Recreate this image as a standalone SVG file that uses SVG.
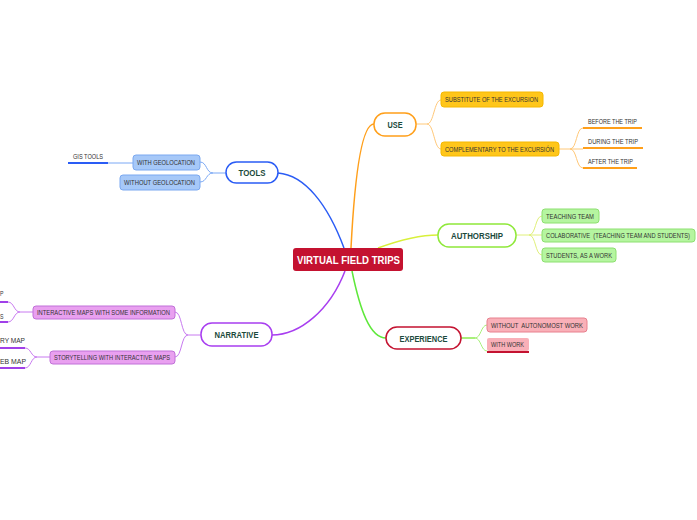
<svg xmlns="http://www.w3.org/2000/svg" width="697" height="520" viewBox="0 0 697 520">
<style>
text{font-family:"Liberation Sans",Arial,sans-serif}
.sm{font-size:7px;fill:#333}
.mt{font-size:9.5px;font-weight:bold;fill:#1b4a3c;text-anchor:middle}
.topic{fill:#fff;stroke-width:1.5}
.fk{fill:none;stroke-width:1}
.ul{fill:none;stroke-width:2}
</style>
<rect width="697" height="520" fill="#fff"/>
<g id="connectors" fill="none">
<path d="M278,173 C305,175 328,205 344,248" stroke="#2a5cf5" stroke-width="1.5"/>
<path d="M351,248 C354,190 360,124 374,124" stroke="#ff9f1a" stroke-width="1.5"/>
<path d="M378,248 C400,240 418,235 438,235" stroke="#d8f03a" stroke-width="1.5"/>
<path d="M352,271 C360,310 370,338 386,338" stroke="#5ee83a" stroke-width="1.5"/>
<path d="M345,271 C330,310 300,335 272,335" stroke="#a83ef0" stroke-width="1.5"/>
<path class="fk" d="M226,173 H213 C206,173 207,162 200,162 M213,173 C206,173 207,182 200,182 M133,163 H108" stroke="#7aa8f5"/>
<path class="ul" d="M68,163 H108" stroke="#2a5cf5"/>
<path class="fk" d="M416,124 H427 C434,124 434,100 441,100 M427,124 C434,124 434,149 441,149" stroke="#ffc878"/>
<path class="fk" d="M559,149 H570 C577,149 576,128 583,128 M570,149 H583 M570,149 C577,149 576,168 583,168" stroke="#ffc878"/>
<path class="ul" d="M583,128 H642 M583,148 H643 M583,168 H637" stroke="#ff9f1a"/>
<path class="fk" d="M516,235 H529 C536,235 535,216 542,216 M529,235 H542 M529,235 C536,235 535,255 542,255" stroke="#e0f07a"/>
<path d="M461,338 H475" stroke="#a8f07a" stroke-width="2"/>
<path class="fk" d="M475,338 C481,338 481,325 487,325 M475,338 C481,338 481,351 487,351" stroke="#a8f07a"/>
<path class="ul" d="M487,352 H529" stroke="#c41230"/>
<path class="fk" d="M201,335 H188 C181,335 182,312 175,312 M188,335 C181,335 182,357 175,357" stroke="#c87af0"/>
<path class="fk" d="M33,312 H20 C14,312 14,302 8,302 M20,312 C14,312 14,322 8,322" stroke="#c87af0"/>
<path class="fk" d="M50,357 H37 C31,357 31,348 25,348 M37,357 C31,357 31,368 25,368" stroke="#c87af0"/>
<path class="ul" d="M0,302 H8 M0,322 H8 M0,348 H25 M0,368 H25" stroke="#a040e8"/>
</g>
<g id="central">
<rect x="293" y="248" width="110" height="23" rx="3" fill="#c41230"/>
<text x="297" y="263.5" font-size="10.5" font-weight="bold" fill="#fff" textLength="103" lengthAdjust="spacingAndGlyphs">VIRTUAL FIELD TRIPS</text>
</g>
<g id="tools">
<rect class="topic" x="226" y="162" width="52" height="21" rx="10.5" stroke="#2a5cf5"/>
<text class="mt" x="252" y="176" textLength="27" lengthAdjust="spacingAndGlyphs">TOOLS</text>
</g>
<g id="with-geolocation">
<rect x="133" y="155" width="67" height="15" rx="3" fill="#a6c8f8" stroke="#7aa8f0"/>
<text class="sm" x="137" y="165" textLength="58" lengthAdjust="spacingAndGlyphs">WITH GEOLOCATION</text>
</g>
<g id="without-geolocation">
<rect x="120" y="175" width="80" height="15" rx="3" fill="#a6c8f8" stroke="#7aa8f0"/>
<text class="sm" x="124" y="185" textLength="71" lengthAdjust="spacingAndGlyphs">WITHOUT GEOLOCATION</text>
</g>
<g id="gis-tools">
<text class="sm" x="73" y="158.5" textLength="30" lengthAdjust="spacingAndGlyphs">GIS TOOLS</text>
</g>
<g id="use">
<rect class="topic" x="374" y="113" width="42" height="23" rx="11" stroke="#ff9f1a"/>
<text class="mt" x="395" y="128" textLength="15" lengthAdjust="spacingAndGlyphs">USE</text>
</g>
<g id="substitute">
<rect x="441" y="92" width="102" height="15" rx="3" fill="#ffc61a" stroke="#f5b800"/>
<text class="sm" x="445" y="102" textLength="93" lengthAdjust="spacingAndGlyphs">SUBSTITUTE OF THE EXCURSION</text>
</g>
<g id="complementary">
<rect x="441" y="142" width="118" height="14" rx="3" fill="#ffc61a" stroke="#f5b800"/>
<text class="sm" x="445" y="151.5" textLength="109" lengthAdjust="spacingAndGlyphs">COMPLEMENTARY TO THE EXCURSIÓN</text>
</g>
<g id="before"><text class="sm" x="588" y="123.5" textLength="49" lengthAdjust="spacingAndGlyphs">BEFORE THE TRIP</text></g>
<g id="during"><text class="sm" x="588" y="143.5" textLength="50" lengthAdjust="spacingAndGlyphs">DURING THE TRIP</text></g>
<g id="after"><text class="sm" x="588" y="163.5" textLength="45" lengthAdjust="spacingAndGlyphs">AFTER THE TRIP</text></g>
<g id="authorship">
<rect class="topic" x="438" y="224" width="78" height="23" rx="11" stroke="#8fe83a"/>
<text class="mt" x="477" y="239" textLength="52" lengthAdjust="spacingAndGlyphs">AUTHORSHIP</text>
</g>
<g id="teaching-team">
<rect x="542" y="209" width="57" height="14" rx="3" fill="#b5f5a0" stroke="#8de070"/>
<text class="sm" x="546" y="218.5" textLength="48" lengthAdjust="spacingAndGlyphs">TEACHING TEAM</text>
</g>
<g id="colaborative">
<rect x="542" y="229" width="153" height="13" rx="3" fill="#b5f5a0" stroke="#8de070"/>
<text class="sm" transform="translate(546,238) scale(0.82,1)" xml:space="preserve">COLABORATIVE  (TEACHING TEAM AND STUDENTS)</text>
</g>
<g id="students">
<rect x="542" y="248" width="74" height="14" rx="3" fill="#b5f5a0" stroke="#8de070"/>
<text class="sm" x="546" y="257.5" textLength="66" lengthAdjust="spacingAndGlyphs">STUDENTS, AS A WORK</text>
</g>
<g id="experience">
<rect class="topic" x="386" y="327" width="75" height="22" rx="11" stroke="#c41230"/>
<text class="mt" x="423.5" y="341.5" textLength="48" lengthAdjust="spacingAndGlyphs">EXPERIENCE</text>
</g>
<g id="without-autonomost">
<rect x="487" y="318" width="100" height="14" rx="3" fill="#f9b0b8" stroke="#e8808e"/>
<text class="sm" x="491" y="327.5" textLength="92" lengthAdjust="spacingAndGlyphs" xml:space="preserve">WITHOUT  AUTONOMOST WORK</text>
</g>
<g id="with-work">
<rect x="487" y="338" width="42" height="13" rx="2" fill="#f9b0b8"/>
<text class="sm" x="491" y="347" textLength="33" lengthAdjust="spacingAndGlyphs">WITH WORK</text>
</g>
<g id="narrative">
<rect class="topic" x="201" y="323" width="71" height="23" rx="11" stroke="#a83ef0"/>
<text class="mt" x="236.5" y="338" textLength="44" lengthAdjust="spacingAndGlyphs">NARRATIVE</text>
</g>
<g id="interactive-maps">
<rect x="33" y="306" width="142" height="13" rx="3" fill="#e9a0f0" stroke="#c070d8"/>
<text class="sm" x="37" y="315" textLength="133" lengthAdjust="spacingAndGlyphs">INTERACTIVE MAPS WITH SOME INFORMATION</text>
</g>
<g id="storytelling">
<rect x="50" y="351" width="125" height="13" rx="3" fill="#e9a0f0" stroke="#c070d8"/>
<text class="sm" x="54" y="360" textLength="116" lengthAdjust="spacingAndGlyphs">STORYTELLING WITH INTERACTIVE MAPS</text>
</g>
<g id="leaf-p"><text class="sm" x="0" y="296" textLength="3.5" lengthAdjust="spacingAndGlyphs">P</text></g>
<g id="leaf-s"><text class="sm" x="0" y="318.5" textLength="3.5" lengthAdjust="spacingAndGlyphs">S</text></g>
<g id="leaf-ry-map"><text class="sm" x="0" y="342.5" textLength="25" lengthAdjust="spacingAndGlyphs">RY MAP</text></g>
<g id="leaf-eb-map"><text class="sm" x="0" y="363.5" textLength="26" lengthAdjust="spacingAndGlyphs">EB MAP</text></g>
</svg>
